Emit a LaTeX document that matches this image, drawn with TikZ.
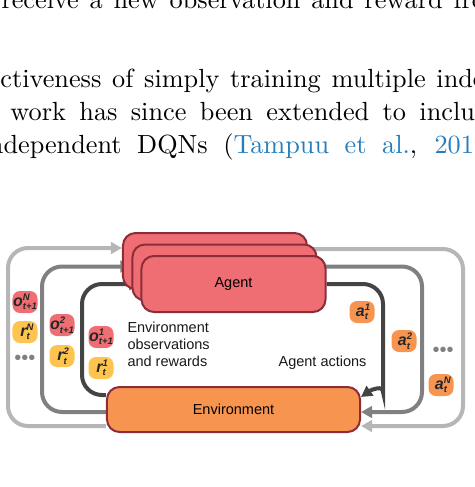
\documentclass[tikz,border=0pt]{standalone}
\usepackage{amsmath}
\usepackage{fontspec}
\setsansfont{Liberation Sans}
\usepackage{xcolor}
\usetikzlibrary{positioning,arrows.meta}

\definecolor{agentred}{RGB}{239,110,115}
\definecolor{boxedge}{RGB}{140,45,58}
\definecolor{envorange}{RGB}{247,149,80}
\definecolor{rewyellow}{RGB}{253,196,80}
\definecolor{greydark}{RGB}{68,68,68}
\definecolor{greymid}{RGB}{128,128,128}
\definecolor{greylight}{RGB}{182,182,182}
\definecolor{citeblue}{RGB}{35,125,190}

\pgfdeclarelayer{background}
\pgfsetlayers{background,main}

\newcommand{\pagefont}{\fontsize{10.5}{13.2}\selectfont}
\newcommand{\diagfont}{\sffamily\fontsize{5.8}{6.8}\selectfont}
\newcommand{\badgefont}{\sffamily\bfseries\itshape\fontsize{6.4}{7}\selectfont}
\newcommand{\stacklbl}[3]{#1\makebox[0pt][l]{\raisebox{2.4pt}{\fontsize{3.8}{4}\selectfont#2}}\raisebox{-1.4pt}{\fontsize{3.8}{4}\selectfont#3}}

\begin{document}
\begin{tikzpicture}[x=0.4pt, y=-0.4pt,
    pageline/.style={anchor=base west, inner sep=0pt, font=\pagefont},
    agentbox/.style={draw=boxedge, line width=0.8pt, fill=agentred, rounded corners=5pt,
        minimum width=73.6pt, minimum height=22.4pt, inner sep=0pt, font=\diagfont},
    envbox/.style={draw=boxedge, line width=0.8pt, fill=envorange, rounded corners=5pt,
        minimum width=101.2pt, minimum height=18pt, inner sep=0pt, font=\diagfont},
    badge/.style={rounded corners=3pt, minimum width=10pt, minimum height=8.8pt, inner sep=0pt,
        font=\badgefont, text=black!85},
    obsbadge/.style={badge, fill=agentred},
    rewbadge/.style={badge, fill=rewyellow},
    actbadge/.style={badge, fill=envorange},
    dotsnode/.style={inner sep=0pt, text=greymid, font=\sffamily\fontsize{8}{8}\selectfont},
    labeltext/.style={inner sep=0pt, font=\diagfont, text=black!90},
    loopline/.style={line width=1.6pt, rounded corners=8pt, -{Triangle[length=4.4pt,width=4.6pt]}},
    innerloop/.style={loopline, draw=greydark},
    midloop/.style={loopline, draw=greymid},
    outerloop/.style={loopline, draw=greylight}]
    \useasboundingbox (0,0) rectangle (474,487);
    \clip (0,0) rectangle (474,487);

    % text of the page
    \node[pageline] (line1) at (1,8) {\makebox[180.8pt][s]{receive a new observation and reward \rlap{from}}};
    \node[pageline] (line2) at (0,87) {\makebox[174.4pt][s]{ctiveness of simply training multiple \rlap{independent}}};
    \node[pageline] (line3) at (10,120) {\makebox[163.6pt][s]{work has since been extended to \rlap{include}}};
    \node[pageline] (line4) at (3,153) {\makebox[172.4pt][s]{\llap{in}dependent DQNs (\textcolor{citeblue}{Tampuu et al.}, \rlap{\textcolor{citeblue}{2017})}}};

    % agents and environment
    \node[agentbox] (agent3) at (215,261) {};
    \node[agentbox] (agent2) at (224.5,272.5) {};
    \node[agentbox] (agent1) at (233.5,284) {Agent};
    \node[envbox] (env) at (233.5,409.5) {Environment};

    % observations and rewards
    \node[obsbadge] (obsN) at (25,302) {\stacklbl{o}{N}{t+1}};
    \node[rewbadge] (rewN) at (25,332) {\stacklbl{r}{N}{t}};
    \node[dotsnode] (dotsL) at (25,360) {\textbullet\textbullet\textbullet};
    \node[obsbadge] (obs2) at (62,325) {\stacklbl{o}{2}{t+1}};
    \node[rewbadge] (rew2) at (62,356) {\stacklbl{r}{2}{t}};
    \node[obsbadge] (obs1) at (101,337) {\stacklbl{o}{1}{t+1}};
    \node[rewbadge] (rew1) at (101,368) {\stacklbl{r}{1}{t}};
    \node[labeltext, anchor=west, align=left] (obstext) at (127,344) {Environment\\observations\\and rewards};

    % actions
    \node[actbadge] (act1) at (362,312) {\stacklbl{a}{1}{t}};
    \node[actbadge] (act2) at (404,341) {\stacklbl{a}{2}{t}};
    \node[dotsnode] (dotsR) at (443,352) {\textbullet\textbullet\textbullet};
    \node[actbadge] (actN) at (441,385) {\stacklbl{a}{N}{t}};
    \node[labeltext, anchor=east] (acttext) at (367,363) {Agent actions};

    \begin{pgfonlayer}{background}
        % env -> agents
        \draw[outerloop] ([yshift=-6.6pt]env.west) -| (8,350) |- ([yshift=5.2pt]agent3.west);
        \draw[midloop] ([yshift=-1pt]env.west) -| (42,350) |- ([yshift=2.4pt]agent2.west);
        \draw[innerloop] ([yshift=5.8pt]env.west) -| (82,340) |- (agent1.west);
        % agents -> env
        \draw[outerloop] ([yshift=4.8pt]agent3.east) -| (463,350) |- ([yshift=-6.6pt]env.east);
        \draw[midloop] ([yshift=2.4pt]agent2.east) -| (422,350) |- ([yshift=-1pt]env.east);
        \draw[innerloop] (agent1.east) -| (383,372) to[out=-90,in=35] ([yshift=5pt]env.east);
    \end{pgfonlayer}
\end{tikzpicture}
\end{document}
